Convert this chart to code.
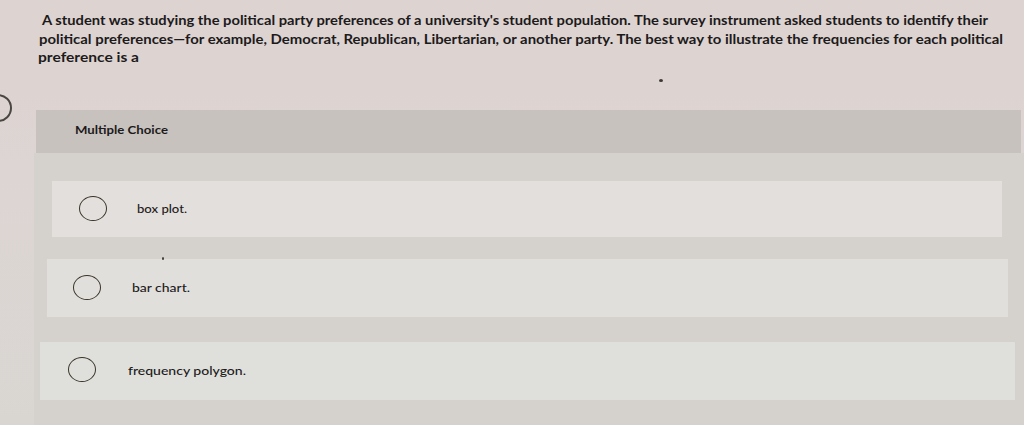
<!DOCTYPE html>
<html>
<head>
<meta charset="utf-8">
<script src="https://cdn.jsdelivr.net/npm/chart.js@4"></script>
<style>
html, body { margin: 0; padding: 0; }
body {
    width: 1024px; height: 425px; overflow: hidden; position: relative;
    font-family: Lato, "Open Sans", sans-serif; color: #1c1a1a;
    background: linear-gradient(180deg, #ddd3d1 0%, #ddd5d3 40%, #d9d6d2 100%);
}
.line { position: absolute; white-space: nowrap; font-weight: 700; font-size: 13px; transform-origin: 0 50%; line-height: 16px; }
.panel { position: absolute; left: 34px; top: 153px; width: 990px; height: 272px; background: #d5d2cd; }
.head { position: absolute; left: 36px; top: 110px; width: 985px; height: 43px; background: #c8c2bf; }
.head span { position: absolute; left: 39px; top: 12px; font-size: 12px; font-weight: 700; white-space: nowrap; transform-origin: 0 50%; }
.opt { position: absolute; background: #e3e0dd; }
.opt .dot { position: absolute; width: 28px; height: 25px; border: 1.8px solid #3a3427; border-radius: 50%; box-sizing: border-box; }
.opt .txt { position: absolute; font-size: 12px; font-weight: 500; white-space: nowrap; transform-origin: 0 50%; }
.ring { position: absolute; left: -16px; top: 94px; width: 24px; height: 24px; border: 2px solid #4a4640; border-radius: 50%; }
.speck { position: absolute; width: 3px; height: 3px; border-radius: 50%; background: #3c3833; }
</style>
</head>
<body>
<div class="ring"></div>
<div class="panel"></div>
<div class="head"><span id="head">Multiple Choice</span></div>
<div id="root"></div>
<div class="speck" style="left:659px;top:79px;width:4px"></div>
<div class="speck" style="left:162px;top:257px;width:2px;height:3px"></div>
<script>
// question text, one entry per printed line
let questionLines = [
    "A student was studying the political party preferences of a university's student population. The survey instrument asked students to identify their",
    "political preferences\u2014for example, Democrat, Republican, Libertarian, or another party. The best way to illustrate the frequencies for each political",
    "preference is a"
];
let lineLeft = [42, 39, 38];
let lineTop = [12, 31, 49];
let lineRight = [988, 1003, 139];

let choices = ["box plot.", "bar chart.", "frequency polygon."];
let choiceWidth = [50, 58, 118];
let boxLeft = [52, 47, 40];
let boxRight = [1002, 1008, 1015];
let boxTop = [181, 259, 342];
let boxHeight = [56, 58, 58];
let boxColor = ["#e3dfdc", "#e1dfdc", "#dfe0dc"];
let dotLeft = [27, 26, 28];
let dotTop = [15, 16, 15];
let textLeft = [85, 85, 88];

function fitWidth(el, target) {
    let w = el.getBoundingClientRect().width;
    el.style.transform = "scaleX(" + (target / w) + ")";
}

let root = document.getElementById("root");
for (let i = 0; i < questionLines.length; i++) {
    let el = document.createElement("div");
    el.className = "line";
    el.textContent = questionLines[i];
    el.style.left = lineLeft[i] + "px";
    el.style.top = lineTop[i] + "px";
    root.appendChild(el);
    fitWidth(el, lineRight[i] - lineLeft[i]);
}
fitWidth(document.getElementById("head"), 93);
for (let i = 0; i < choices.length; i++) {
    let box = document.createElement("div");
    box.className = "opt";
    box.style.left = boxLeft[i] + "px";
    box.style.top = boxTop[i] + "px";
    box.style.width = (boxRight[i] - boxLeft[i]) + "px";
    box.style.height = boxHeight[i] + "px";
    box.style.background = boxColor[i];
    let dot = document.createElement("div");
    dot.className = "dot";
    dot.style.left = dotLeft[i] + "px";
    dot.style.top = dotTop[i] + "px";
    box.appendChild(dot);
    let txt = document.createElement("div");
    txt.className = "txt";
    txt.textContent = choices[i];
    txt.style.left = textLeft[i] + "px";
    txt.style.top = (boxHeight[i] / 2 - 8) + "px";
    box.appendChild(txt);
    root.appendChild(box);
    fitWidth(txt, choiceWidth[i]);
}
</script>
</body>
</html>
